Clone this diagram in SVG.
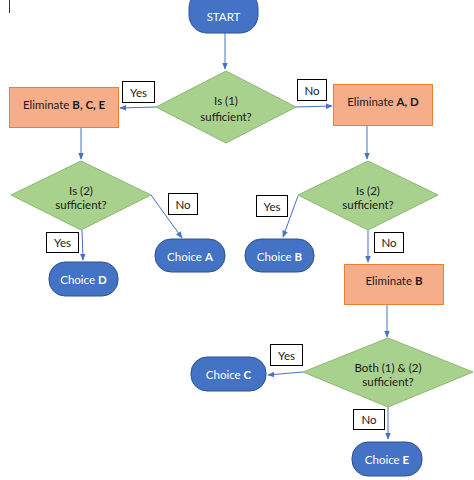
<svg xmlns="http://www.w3.org/2000/svg" width="474" height="480" viewBox="0 0 474 480">
<defs>
<marker id="ah" viewBox="0 0 10 10" refX="9" refY="5" markerWidth="7" markerHeight="7" orient="auto" markerUnits="userSpaceOnUse">
<path d="M0,1 L10,5 L0,9 z" fill="#4472C4"/>
</marker>
<style>
.term{fill:#4472C4;stroke:#2F528F;stroke-width:1}
.dec{fill:#A9D18E;stroke:#8CB870;stroke-width:1}
.proc{fill:#F6AE8A;stroke:#ED7D31;stroke-width:1}
.lbl{fill:#FFFFFF;stroke:#000000;stroke-width:1}
.con{fill:none;stroke:#4472C4;stroke-width:1;marker-end:url(#ah)}
text{font-family:Lato,"Open Sans","Liberation Sans",sans-serif;font-size:11.5px;text-anchor:middle;dominant-baseline:central}
.w{fill:#FFFFFF}
.d{fill:#1A1A1A}
.b{font-weight:bold}
</style>
</defs>
<rect x="0" y="0" width="474" height="480" fill="#FFFFFF"/>
<line x1="9.5" y1="0" x2="9.5" y2="13" stroke="#333333" stroke-width="1"/>

<g id="connectors">
<line class="con" x1="225" y1="33" x2="225" y2="69"/>
<line class="con" x1="156" y1="107" x2="120" y2="108"/>
<line class="con" x1="296" y1="107" x2="332" y2="106"/>
<line class="con" x1="81" y1="128" x2="81" y2="159"/>
<line class="con" x1="367" y1="126" x2="367" y2="159"/>
<line class="con" x1="82" y1="230" x2="83" y2="260"/>
<line class="con" x1="151" y1="195" x2="182" y2="238"/>
<line class="con" x1="298" y1="196" x2="283" y2="237"/>
<line class="con" x1="368" y1="230" x2="368" y2="262"/>
<line class="con" x1="387" y1="305" x2="387" y2="337"/>
<line class="con" x1="303" y1="372" x2="268" y2="375"/>
<line class="con" x1="388" y1="407" x2="388" y2="439"/>
</g>

<g id="start">
<rect class="term" x="189" y="-10" width="69" height="43" rx="18" ry="18"/>
<text class="w" x="223.5" y="16">START</text>
</g>

<g id="q1">
<polygon class="dec" points="226,71 296,107 226,143 156,107"/>
<text class="d" x="226" y="100">Is (1)</text>
<text class="d" x="226" y="116">sufficient?</text>
</g>

<g id="lbl-yes1">
<rect class="lbl" x="122.5" y="81.5" width="32" height="21"/>
<text class="d" x="138.5" y="92">Yes</text>
</g>

<g id="lbl-no1">
<rect class="lbl" x="297.5" y="79.5" width="29" height="21"/>
<text class="d" x="312" y="90">No</text>
</g>

<g id="elim-bce">
<rect class="proc" x="9.5" y="87.5" width="109" height="40"/>
<text class="d" x="64" y="104">Eliminate <tspan class="b">B, C, E</tspan></text>
</g>

<g id="elim-ad">
<rect class="proc" x="333.5" y="84.5" width="99" height="41"/>
<text class="d" x="383" y="101">Eliminate <tspan class="b">A, D</tspan></text>
</g>

<g id="q2-left">
<polygon class="dec" points="81,161 151,195 81,230 11,195"/>
<text class="d" x="81" y="190">Is (2)</text>
<text class="d" x="81" y="204">sufficient?</text>
</g>

<g id="q2-right">
<polygon class="dec" points="368,161 438,195 368,230 298,195"/>
<text class="d" x="368" y="190">Is (2)</text>
<text class="d" x="368" y="204">sufficient?</text>
</g>

<g id="lbl-yes2l">
<rect class="lbl" x="46.5" y="232.5" width="32" height="20"/>
<text class="d" x="62.5" y="242.5">Yes</text>
</g>

<g id="lbl-no2l">
<rect class="lbl" x="168.5" y="193.5" width="29" height="21"/>
<text class="d" x="183" y="204">No</text>
</g>

<g id="lbl-yes2r">
<rect class="lbl" x="256.5" y="195.5" width="31" height="21"/>
<text class="d" x="272" y="206">Yes</text>
</g>

<g id="lbl-no2r">
<rect class="lbl" x="374.5" y="232.5" width="29" height="20"/>
<text class="d" x="389" y="242.5">No</text>
</g>

<g id="choice-d">
<rect class="term" x="49" y="262" width="69" height="34" rx="16" ry="16"/>
<text class="w" x="83.5" y="279">Choice <tspan class="b">D</tspan></text>
</g>

<g id="choice-a">
<rect class="term" x="155" y="239" width="70" height="33" rx="16" ry="16"/>
<text class="w" x="190" y="256">Choice <tspan class="b">A</tspan></text>
</g>

<g id="choice-b">
<rect class="term" x="245" y="239" width="69" height="33" rx="16" ry="16"/>
<text class="w" x="279.5" y="256">Choice <tspan class="b">B</tspan></text>
</g>

<g id="elim-b">
<rect class="proc" x="344.5" y="264.5" width="99" height="40"/>
<text class="d" x="394" y="280">Eliminate <tspan class="b">B</tspan></text>
</g>

<g id="q3">
<polygon class="dec" points="388,338 473,372 388,407 303,372"/>
<text class="d" x="388" y="367">Both (1) &amp; (2)</text>
<text class="d" x="388" y="381">sufficient?</text>
</g>

<g id="lbl-yes3">
<rect class="lbl" x="270.5" y="344.5" width="32" height="21"/>
<text class="d" x="286.5" y="355">Yes</text>
</g>

<g id="lbl-no3">
<rect class="lbl" x="353.5" y="409.5" width="31" height="20"/>
<text class="d" x="369" y="419.5">No</text>
</g>

<g id="choice-c">
<rect class="term" x="191" y="357" width="75" height="34" rx="16" ry="16"/>
<text class="w" x="228.5" y="374">Choice <tspan class="b">C</tspan></text>
</g>

<g id="choice-e">
<rect class="term" x="352" y="442" width="70" height="34" rx="16" ry="16"/>
<text class="w" x="387" y="459">Choice <tspan class="b">E</tspan></text>
</g>
</svg>
